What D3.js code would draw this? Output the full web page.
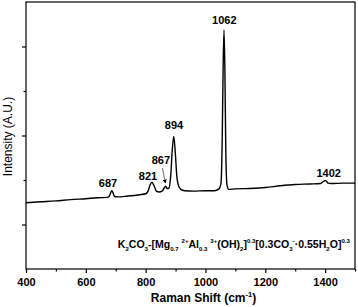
<!DOCTYPE html>
<html><head><meta charset="utf-8">
<script src="https://cdn.jsdelivr.net/npm/d3@7"></script>
<style>
body{margin:0;background:#fff;}
text{font-family:"Liberation Sans",Arial,sans-serif;}
</style></head>
<body><svg id="c" width="358" height="307"></svg>
<script>
// Raman spectrum (wavenumber, intensity in arbitrary units)
const shift = [400,450,500,550,600,640,670,678,683,687,691,696,705,740,780,800,808,815,821,828,836,845,855,862,867,872,878,884,889,894,899,904,910,918,930,960,1000,1030,1045,1052,1056,1059,1062,1065,1068,1072,1078,1100,1150,1200,1250,1300,1350,1385,1395,1402,1410,1420,1460,1500];
const intensity = [1.49,1.51,1.53,1.56,1.58,1.60,1.61,1.63,1.71,1.76,1.71,1.63,1.62,1.64,1.67,1.69,1.75,1.89,1.95,1.87,1.75,1.73,1.75,1.82,1.86,1.81,1.82,2.11,2.67,2.98,2.63,2.11,1.87,1.79,1.76,1.75,1.76,1.76,1.80,1.93,2.90,4.47,5.37,4.47,2.67,1.89,1.79,1.80,1.81,1.83,1.87,1.90,1.91,1.92,1.97,1.99,1.93,1.92,1.93,1.93];
const xTicksMajor = [400,600,800,1000,1200,1400];
const xTicksMinor = [500,700,900,1100,1300,1500];
const yTicksMajor = [1,3,5];
const yTicksMinor = [2,4];
const peakText = ["687","821","867","894","1062","1402"];
const peakLabelX = [674,808,851,895,1063,1412];
const peakLabelY = [1.85,2.01,2.36,3.14,5.51,2.07];
const arrowFrom = [856,2.27];
const arrowTo = [866,1.93];
const xTitle = "Raman Shift (cm";
const yTitle = "Intensity (A.U.)";
const formula = [["K",""],["2","sub"],["CO",""],["3","sub"],["-[Mg",""],["0.7","sub"],[" ",""],["2+","sup"],["Al",""],["0.3","sub"],[" ",""],["3+","sup"],["(OH)",""],["2","sub"],["]",""],["0.3","sup"],["[0.3CO",""],["3","sub"],["-","sup"],["·0.55H",""],["2","sub"],["O]",""],["0.3","sup"]];

const svg = d3.select("#c");
const L=26,R=355,T=2,B=269;
const x = d3.scaleLinear().domain([400,1500]).range([L,R]);
const y = d3.scaleLinear().domain([0,6]).range([B,T]);

// frame
svg.append("rect").attr("x",L).attr("y",T).attr("width",R-L).attr("height",B-T)
  .attr("fill","none").attr("stroke","#000").attr("stroke-width",1.2);

// x axis
const gx = svg.append("g").attr("transform",`translate(0,${B})`);
gx.call(d3.axisBottom(x).tickValues(xTicksMajor).tickSize(4).tickFormat(d3.format("d")))
  .call(g=>g.select(".domain").remove())
  .call(g=>g.selectAll("text").attr("font-size",11).attr("font-weight","bold")
     .attr("font-family","'Liberation Sans',Arial,sans-serif").attr("dy","0.9em"));
gx.append("g").call(d3.axisBottom(x).tickValues(xTicksMinor).tickSize(2.5).tickFormat(""))
  .call(g=>g.select(".domain").remove());

// y axis
const gy = svg.append("g").attr("transform",`translate(${L},0)`);
gy.call(d3.axisLeft(y).tickValues(yTicksMajor).tickSize(4).tickFormat(""))
  .call(g=>g.select(".domain").remove());
gy.append("g").call(d3.axisLeft(y).tickValues(yTicksMinor).tickSize(2.5).tickFormat(""))
  .call(g=>g.select(".domain").remove());
svg.selectAll(".tick line").attr("stroke-width",1.2);

// spectrum
const data = shift.map((s,i)=>[s,intensity[i]]);
svg.append("path").datum(data)
  .attr("fill","none").attr("stroke","#000").attr("stroke-width",1.4)
  .attr("stroke-linejoin","round")
  .attr("d",d3.line().x(d=>x(d[0])).y(d=>y(d[1])).curve(d3.curveMonotoneX));

// peak labels
svg.selectAll(".pk").data(peakText).join("text").attr("class","pk")
  .attr("x",(d,i)=>x(peakLabelX[i])).attr("y",(d,i)=>y(peakLabelY[i]))
  .attr("text-anchor","middle").attr("font-size",11).attr("font-weight","bold").text(d=>d);

// arrow
svg.append("defs").append("marker").attr("id","ah").attr("viewBox","0 0 10 10")
  .attr("refX",9).attr("refY",5).attr("markerWidth",5).attr("markerHeight",5)
  .attr("orient","auto").append("path").attr("d","M0,0L10,5L0,10z").attr("fill","#000");
svg.append("line").attr("x1",x(arrowFrom[0])).attr("y1",y(arrowFrom[1]))
  .attr("x2",x(arrowTo[0])).attr("y2",y(arrowTo[1]))
  .attr("stroke","#444").attr("stroke-width",0.8).attr("marker-end","url(#ah)");

// formula
const ft = svg.append("text").attr("x",x(707)).attr("y",y(0.47))
  .attr("font-size",10.5).attr("font-weight","bold")
  .attr("textLength",232).attr("lengthAdjust","spacingAndGlyphs");
let cur=0;
formula.forEach(([t,k])=>{
  const target = k==="sub"?3:k==="sup"?-5:0;
  ft.append("tspan").attr("dy",target-cur).attr("font-size",k?6:10.5).text(t);
  cur=target;
});

// axis titles
const xt = svg.append("text").attr("x",(L+R)/2+13).attr("y",302)
  .attr("text-anchor","middle").attr("font-size",12).attr("font-weight","bold");
xt.append("tspan").text(xTitle);
xt.append("tspan").attr("dy",-5).attr("font-size",7.5).text("-1");
xt.append("tspan").attr("dy",5).text(")");
svg.append("text").attr("transform",`translate(12,${(T+B)/2+1}) rotate(-90)`)
  .attr("text-anchor","middle").attr("font-size",12).text(yTitle);
</script></body></html>
